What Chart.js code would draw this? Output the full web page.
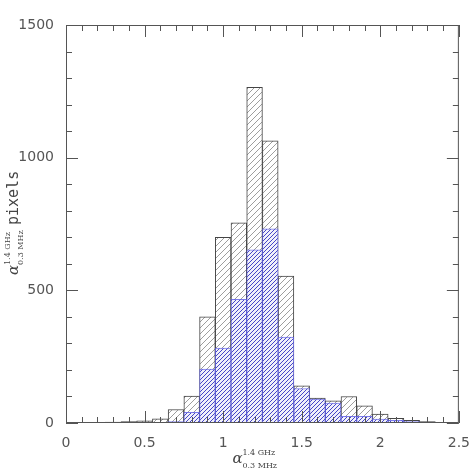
<!DOCTYPE html>
<html>
<head>
<meta charset="utf-8">
<script src="https://cdn.jsdelivr.net/npm/chart.js@4.4.0/dist/chart.umd.min.js"></script>
<style>
  html, body { margin: 0; padding: 0; background: #fff; }
  #wrap { width: 474px; height: 474px; }
</style>
</head>
<body>
<div id="wrap"><canvas id="c" width="474" height="474"></canvas></div>
<script>
/* ========= Datos ========= */
const binCenters = [0.3, 0.4, 0.5, 0.6, 0.7, 0.8, 0.9, 1.0, 1.1, 1.2, 1.3, 1.4, 1.5, 1.6, 1.7, 1.8, 1.9, 2.0, 2.1, 2.2, 2.3];
const allPixels  = [3, 5, 8, 16, 51, 101, 400, 700, 754, 1265, 1063, 554, 140, 94, 84, 100, 65, 34, 18, 10, 5];
const bluePixels = [0, 0, 0, 2, 5, 40, 203, 282, 466, 653, 732, 324, 130, 90, 75, 25, 25, 15, 10, 5, 0];
const xTicks = [0, 0.5, 1, 1.5, 2, 2.5];
const yTicks = [0, 500, 1000, 1500];

/* ========= Helpers ========= */
function hatch(color, gap, width, bg) {
  const c = document.createElement("canvas");
  c.width = gap; c.height = gap;
  const g = c.getContext("2d");
  if (bg) { g.fillStyle = bg; g.fillRect(0, 0, gap, gap); }
  g.strokeStyle = color;
  g.lineWidth = width;
  g.beginPath();
  for (let k = -1; k <= 1; k++) {
    g.moveTo(k * gap, gap);
    g.lineTo(k * gap + gap, 0);
  }
  g.stroke();
  return g.createPattern(c, "repeat");
}

const toPts = (arr) => binCenters.map((x, i) => ({ x, y: arr[i] }));

// Ticks hacia adentro en las cuatro caras
const frameTicks = {
  id: "frameTicks",
  afterDraw(chart) {
    const { ctx, chartArea: a, scales } = chart;
    ctx.save();
    ctx.strokeStyle = "#555";
    ctx.lineWidth = 1;
    ctx.strokeRect(a.left + 0.5, a.top + 0.5, a.right - a.left - 1, a.bottom - a.top - 1);
    ctx.beginPath();
    for (let v = 0; v <= 2.5001; v += 0.1) {
      const px = Math.round(scales.x.getPixelForValue(v)) + 0.5;
      const major = Math.abs(v * 2 - Math.round(v * 2)) < 1e-6;
      const len = major ? 12 : 6;
      ctx.moveTo(px, a.bottom); ctx.lineTo(px, a.bottom - len);
      ctx.moveTo(px, a.top); ctx.lineTo(px, a.top + len);
    }
    for (let v = 0; v <= 1500; v += 100) {
      const py = Math.round(scales.y.getPixelForValue(v)) + 0.5;
      const len = v % 500 === 0 ? 12 : 6;
      ctx.moveTo(a.left, py); ctx.lineTo(a.left + len, py);
      ctx.moveTo(a.right, py); ctx.lineTo(a.right - len, py);
    }
    ctx.stroke();

    // Título eje X
    ctx.fillStyle = "#444";
    const cx = (a.left + a.right) / 2;
    ctx.font = "italic 15px 'DejaVu Serif'";
    ctx.textBaseline = "alphabetic";
    ctx.fillText("α", cx - 30, 463);
    ctx.font = "8px 'DejaVu Serif'";
    ctx.fillText("1.4 GHz", cx - 20, 455);
    ctx.fillText("0.3 MHz", cx - 20, 468);

    // Título eje Y
    ctx.translate(18, 275);
    ctx.rotate(-Math.PI / 2);
    ctx.font = "italic 15px 'DejaVu Serif'";
    ctx.fillText("α", 0, 0);
    ctx.font = "8px 'DejaVu Serif'";
    ctx.fillText("1.4 GHz", 10, -8);
    ctx.fillText("0.3 MHz", 10, 5);
    ctx.font = "15px 'DejaVu Sans Mono'";
    ctx.fillText("pixels", 50, 0);
    ctx.restore();
  },
};

/* ========= Chart ========= */
new Chart(document.getElementById("c"), {
  type: "bar",
  data: {
    datasets: [
      {
        data: toPts(allPixels),
        backgroundColor: hatch("rgba(80,80,80,0.7)", 6, 0.8, "#ffffff"),
        borderColor: "#444",
        borderWidth: 1,
        borderSkipped: "bottom",
        barPercentage: 1,
        categoryPercentage: 1,
        grouped: false,
        order: 2,
      },
      {
        data: toPts(bluePixels),
        backgroundColor: hatch("rgba(40,40,190,0.85)", 4, 1, "#f0f0fa"),
        borderColor: "rgba(90,90,230,0.8)",
        borderWidth: 1,
        borderSkipped: "bottom",
        barPercentage: 1,
        categoryPercentage: 1,
        grouped: false,
        order: 1,
      },
    ],
  },
  options: {
    responsive: false,
    animation: false,
    layout: { padding: { top: 25, right: 0, left: 0, bottom: 0 } },
    plugins: { legend: { display: false }, tooltip: { enabled: false } },
    scales: {
      x: {
        type: "linear",
        min: 0,
        max: 2.5,
        offset: false,
        grid: { display: false, offset: false },
        border: { display: false },
        afterBuildTicks: (s) => { s.ticks = xTicks.map((v) => ({ value: v })); },
        afterFit: (s) => { s.height = 51; },
        ticks: { color: "#555", font: { family: "DejaVu Sans", size: 14 }, padding: 4, maxRotation: 0,
          callback: (v) => String(v) },
      },
      y: {
        min: 0,
        max: 1500,
        grid: { display: false },
        border: { display: false },
        afterBuildTicks: (s) => { s.ticks = yTicks.map((v) => ({ value: v })); },
        afterFit: (s) => { s.width = 66; },
        ticks: { color: "#555", font: { family: "DejaVu Sans", size: 14 }, padding: 4,
          callback: (v) => String(v) },
      },
    },
  },
  plugins: [frameTicks],
});
</script>
</body>
</html>
